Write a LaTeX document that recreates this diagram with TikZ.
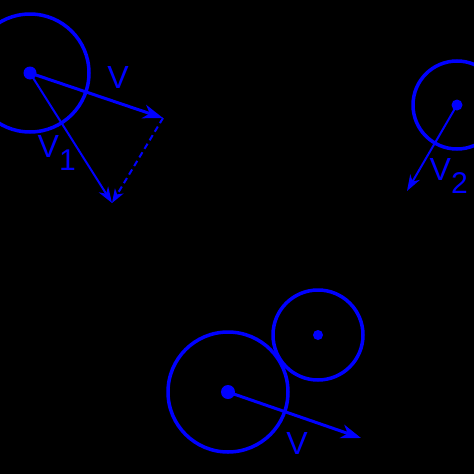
\documentclass[tikz,border=0pt]{standalone}
\usepackage{fontspec}
\setmainfont{Liberation Sans}
\usetikzlibrary{arrows.meta}
\begin{document}
\begin{tikzpicture}[x=1pt,y=-1pt,
  ball/.style={draw=blue,line width=3.5pt,circle,inner sep=0pt},
  hub/.style={fill=blue,circle,inner sep=0pt},
  vec/.style={draw=blue,line width=3pt,-{Stealth[length=20pt,width=14pt,inset=6pt]}},
  thin vec/.style={draw=blue,line width=2pt,-{Stealth[length=16pt,width=11pt,inset=5pt]}},
  lbl/.style={text=blue,font=\fontsize{32}{34}\selectfont,inner sep=0pt}]
\fill[black] (0,0) rectangle (474,474);
\useasboundingbox (0,0) rectangle (474,474);
% upper-left ball
\node[ball,minimum size=118pt] (b1) at (30,73) {};
\node[hub,minimum size=13pt] (c1) at (30,73) {};
\coordinate (v) at (163,118);
\coordinate (v1) at (112,203);
\draw[vec] (c1.center) -- (v);
\draw[thin vec] (c1.center) -- (v1);
\draw[blue,line width=2pt,dashed,dash pattern=on 6pt off 4pt,-{Stealth[length=14pt,width=10pt,inset=4pt]}] (v) -- (v1);
\node[lbl] (lv) at (118,77) {V};
\node[lbl,anchor=center] (lv1) at (57,153) {V\textsubscript{\fontsize{30}{30}\selectfont 1}};
% right ball
\node[ball,minimum size=88pt] (b2) at (457,105) {};
\node[hub,minimum size=11pt] (c2) at (457,105) {};
\coordinate (v2) at (407,191);
\draw[thin vec] (c2.center) -- (v2);
\node[lbl] (lv2) at (449,176) {V\textsubscript{\fontsize{30}{30}\selectfont 2}};
% lower balls
\node[ball,minimum size=120pt] (b3) at (228,392) {};
\node[hub,minimum size=14pt] (c3) at (228,392) {};
\node[ball,minimum size=90pt] (b4) at (318,335) {};
\node[hub,minimum size=10pt] (c4) at (318,335) {};
\coordinate (v3) at (361,438);
\draw[vec] (c3.center) -- (v3);
\node[lbl] (lv3) at (297,443) {V};
\end{tikzpicture}
\end{document}
